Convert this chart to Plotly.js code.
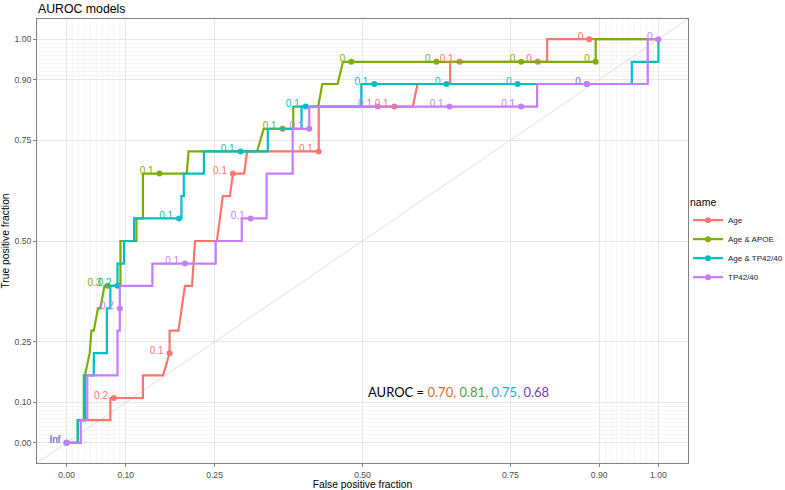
<!DOCTYPE html>
<html><head><meta charset="utf-8">
<script src="https://cdn.plot.ly/plotly-3.0.1.min.js"></script>
<style>html,body{margin:0;padding:0;background:#fff}#chart{width:785px;height:490px}</style>
</head><body><div id="chart"></div>
<script>
const modelNames = ['Age', 'Age & APOE', 'Age & TP42/40', 'TP42/40'];
const modelColors = ['#F8766D', '#7CAE00', '#00BFC4', '#C77CFF'];

// Age
const ageFPF = [0, 0.019, 0.019, 0.074, 0.074, 0.080, 0.129, 0.129, 0.163, 0.174, 0.174, 0.189, 0.200, 0.212, 0.217, 0.254, 0.264, 0.276, 0.281, 0.300, 0.305, 0.426, 0.426, 0.554, 0.585, 0.593, 0.648, 0.648, 0.664, 0.796, 0.812, 0.812, 0.883, 1];
const ageTPF = [0, 0, 0.056, 0.056, 0.111, 0.111, 0.111, 0.167, 0.167, 0.222, 0.278, 0.278, 0.389, 0.389, 0.5, 0.5, 0.611, 0.611, 0.667, 0.667, 0.722, 0.722, 0.833, 0.833, 0.833, 0.889, 0.889, 0.944, 0.944, 0.944, 0.944, 1, 1, 1];
const ageCut = ['Inf', '', '', '', '', '0.2', '', '', '', '0.1', '', '', '', '', '', '', '', '', '0.1', '', '', '0.1', '', '0.1', '', '', '', '', '0.1', '0', '', '', '0', ''];

// Age & APOE
const apoeFPF = [0, 0.019, 0.019, 0.029, 0.029, 0.031, 0.039, 0.042, 0.046, 0.053, 0.057, 0.064, 0.069, 0.091, 0.091, 0.118, 0.118, 0.129, 0.129, 0.157, 0.203, 0.206, 0.322, 0.333, 0.365, 0.383, 0.383, 0.425, 0.432, 0.458, 0.467, 0.481, 0.625, 0.768, 0.894, 0.894, 1];
const apoeTPF = [0, 0, 0.056, 0.056, 0.167, 0.167, 0.222, 0.278, 0.278, 0.333, 0.333, 0.389, 0.389, 0.389, 0.5, 0.5, 0.556, 0.556, 0.667, 0.667, 0.667, 0.722, 0.722, 0.778, 0.778, 0.778, 0.833, 0.833, 0.889, 0.889, 0.944, 0.944, 0.944, 0.944, 0.944, 1, 1];
const apoeCut = ['Inf', '', '', '', '', '', '', '', '', '', '', '', '0.3', '', '', '', '', '', '', '0.1', '', '', '', '', '0.1', '', '', '', '', '', '', '0', '0', '0', '0', '', ''];

// Age & TP42/40
const tpAgeFPF = [0, 0.019, 0.019, 0.031, 0.031, 0.046, 0.046, 0.068, 0.068, 0.074, 0.074, 0.086, 0.086, 0.097, 0.097, 0.114, 0.114, 0.190, 0.194, 0.194, 0.198, 0.198, 0.232, 0.232, 0.294, 0.340, 0.340, 0.397, 0.397, 0.404, 0.498, 0.498, 0.520, 0.642, 0.762, 0.879, 0.955, 0.955, 1, 1];
const tpAgeTPF = [0, 0, 0.056, 0.056, 0.167, 0.167, 0.222, 0.222, 0.333, 0.333, 0.389, 0.389, 0.444, 0.444, 0.5, 0.5, 0.556, 0.556, 0.556, 0.611, 0.611, 0.667, 0.667, 0.722, 0.722, 0.722, 0.778, 0.778, 0.833, 0.833, 0.833, 0.889, 0.889, 0.889, 0.889, 0.889, 0.889, 0.944, 0.944, 1];
const tpAgeCut = ['Inf', '', '', '', '', '', '', '', '', '', '', '0.2', '', '', '', '', '', '0.1', '', '', '', '', '', '', '0.1', '', '', '', '', '0.1', '', '', '0.1', '0', '0', '0', '', '', '', ''];

// TP42/40
const tpFPF = [0, 0.024, 0.024, 0.035, 0.035, 0.086, 0.086, 0.090, 0.090, 0.090, 0.145, 0.145, 0.200, 0.252, 0.252, 0.296, 0.296, 0.311, 0.338, 0.338, 0.382, 0.382, 0.410, 0.410, 0.526, 0.647, 0.768, 0.795, 0.795, 0.879, 0.982, 0.982, 1];
const tpTPF = [0, 0, 0.056, 0.056, 0.167, 0.167, 0.278, 0.278, 0.333, 0.389, 0.389, 0.444, 0.444, 0.444, 0.5, 0.5, 0.556, 0.556, 0.556, 0.667, 0.667, 0.778, 0.778, 0.833, 0.833, 0.833, 0.833, 0.833, 0.889, 0.889, 0.889, 1, 1];
const tpCut = ['Inf', '', '', '', '', '', '', '', '0.2', '', '', '', '0.1', '', '', '', '', '0.1', '', '', '', '', '0.1', '', '0.1', '0.1', '0.1', '', '', '0', '', '', '0'];

const aucValues = ['0.70', '0.81', '0.75', '0.68'];
const aucColors = ['#E2691E', '#5A9A3A', '#1AAEDE', '#7A3AAE'];

const axisRange = [-0.05, 1.05];
const tickVals = [0, 0.1, 0.25, 0.5, 0.75, 0.9, 1];
const tickText = ['0.00', '0.10', '0.25', '0.50', '0.75', '0.90', '1.00'];
const minorTickVals = [0, 0.01, 0.02, 0.03, 0.04, 0.05, 0.06, 0.07, 0.08, 0.09, 0.1,
                       0.9, 0.91, 0.92, 0.93, 0.94, 0.95, 0.96, 0.97, 0.98, 0.99, 1];

const models = [
  {name: modelNames[0], fpf: ageFPF, tpf: ageTPF, cut: ageCut, color: modelColors[0]},
  {name: modelNames[1], fpf: apoeFPF, tpf: apoeTPF, cut: apoeCut, color: modelColors[1]},
  {name: modelNames[2], fpf: tpAgeFPF, tpf: tpAgeTPF, cut: tpAgeCut, color: modelColors[2]},
  {name: modelNames[3], fpf: tpFPF, tpf: tpTPF, cut: tpCut, color: modelColors[3]}
];

// label nudge (cutoff labels sit a little left of / level with their point)
const labelShiftX = 0.010;
const labelShiftY = 0.0075;

const FONT = '"Liberation Sans", Arial, sans-serif';
const traces = [];
traces.push({
  x: axisRange, y: axisRange, mode: 'lines', type: 'scatter',
  line: {color: '#DEDEDE', width: 1}, showlegend: false, hoverinfo: 'skip'
});
models.forEach(m => {
  traces.push({
    x: m.fpf, y: m.tpf, name: m.name, type: 'scatter', mode: 'lines+markers',
    line: {color: m.color, width: 2.2},
    marker: {size: 6, color: m.cut.map(c => c ? m.color : 'rgba(0,0,0,0)')},
    hoverinfo: 'skip'
  });
});
models.forEach(m => {
  const idx = m.cut.map((c, i) => c ? i : -1).filter(i => i >= 0);
  traces.push({
    x: idx.map(i => m.fpf[i]), y: idx.map(i => m.tpf[i]), text: idx.map(i => m.cut[i]),
    xaxis: 'x2', yaxis: 'y2',
    type: 'scatter', mode: 'text', textposition: 'top left', cliponaxis: false,
    textfont: {family: FONT, size: 10, color: m.color},
    showlegend: false, hoverinfo: 'skip'
  });
});

const aucText = 'AUROC = ' + aucValues.map((v, i) =>
  '<span style="color:' + aucColors[i] + '">' + v + (i < aucValues.length - 1 ? ',' : '') + '</span>').join(' ');

const axisCommon = {
  range: axisRange, tickmode: 'array', tickvals: tickVals, ticktext: tickText,
  showgrid: true, gridcolor: '#E6E6E6', gridwidth: 1, zeroline: false,
  showline: true, mirror: true, linecolor: '#808080', linewidth: 1,
  ticks: 'outside', ticklen: 3, tickcolor: '#808080', tickwidth: 1,
  tickfont: {family: FONT, size: 8.6, color: '#4D4D4D'},
  minor: {tickmode: 'array', tickvals: minorTickVals, showgrid: true, gridcolor: '#EFEFEF', gridwidth: 0.6, ticks: ''},
  fixedrange: true
};

const layout = {
  width: 785, height: 490,
  margin: {l: 37, r: 92, t: 19, b: 27, pad: 0},
  paper_bgcolor: '#ffffff', plot_bgcolor: '#ffffff',
  font: {family: FONT, color: '#000000'},
  title: {text: 'AUROC models', x: 38 / 785, xanchor: 'left', y: 1 - 9 / 490, yanchor: 'middle',
          font: {family: FONT, size: 12.3, color: '#000000'}},
  xaxis: Object.assign({}, axisCommon, {
    ticklabelstandoff: 1,
    title: {text: 'False positive fraction', standoff: 3, font: {family: FONT, size: 10.3, color: '#000000'}}
  }),
  yaxis: Object.assign({}, axisCommon, {
    title: {text: 'True positive fraction', standoff: 4, font: {family: FONT, size: 10.3, color: '#000000'}}
  }),
  xaxis2: {overlaying: 'x', anchor: 'y2', visible: false, fixedrange: true,
           range: [axisRange[0] + labelShiftX, axisRange[1] + labelShiftX]},
  yaxis2: {overlaying: 'y', anchor: 'x2', visible: false, fixedrange: true,
           range: [axisRange[0] + labelShiftY, axisRange[1] + labelShiftY]},
  legend: {
    xref: 'container', yref: 'container',
    x: 688 / 785, xanchor: 'left', y: 1 - 192 / 490, yanchor: 'top',
    title: {text: 'name', font: {family: FONT, size: 10.5, color: '#000000'}},
    font: {family: FONT, size: 8, color: '#1A1A1A'},
    bgcolor: 'rgba(0,0,0,0)', tracegroupgap: 0
  },
  annotations: [{
    text: aucText, x: 0.663, y: 0.125, xref: 'x', yref: 'y', xanchor: 'center', yanchor: 'middle',
    showarrow: false, font: {family: 'Lato, "Open Sans", sans-serif', size: 13, color: '#000000'}
  }],
  showlegend: true
};

Plotly.newPlot('chart', traces, layout, {displayModeBar: false, staticPlot: true});
</script>
</body></html>
